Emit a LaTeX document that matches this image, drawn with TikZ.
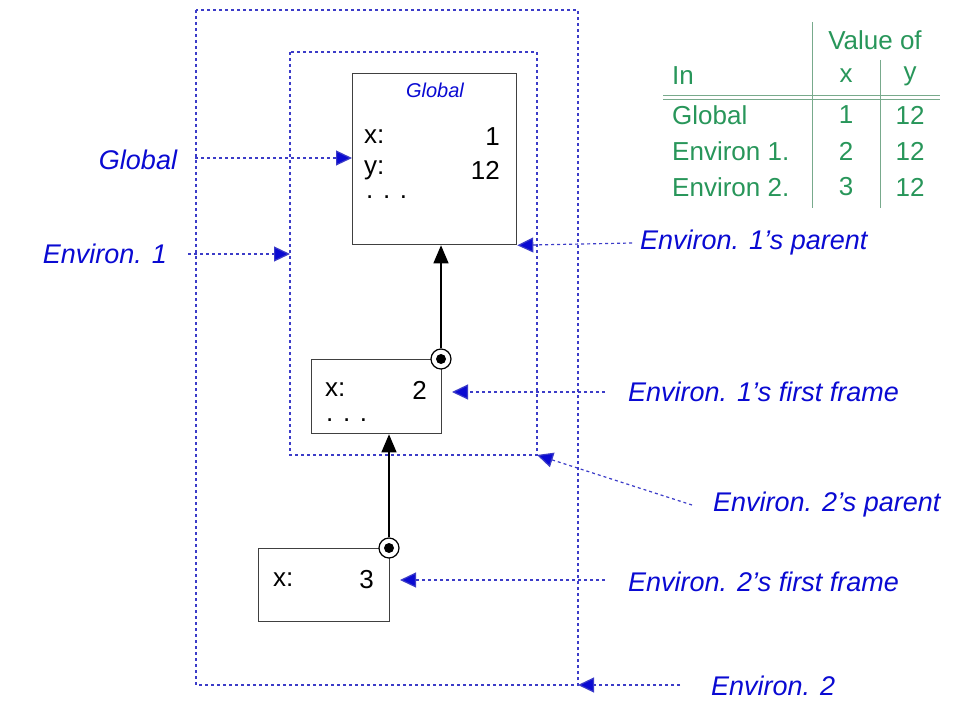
\documentclass[tikz,border=0pt]{standalone}
\usepackage{fontspec}
\setmainfont{Liberation Sans}
\usetikzlibrary{arrows.meta}
\definecolor{lblue}{RGB}{10,10,210}
\definecolor{dblue}{RGB}{60,60,200}
\definecolor{tgreen}{RGB}{40,150,90}
\definecolor{tline}{RGB}{120,170,140}
\begin{document}
\begin{tikzpicture}[x=1pt,y=-1pt,
  env/.style={draw=dblue,dash pattern=on 3pt off 3pt,line width=1.2pt},
  box/.style={draw=black!75,line width=1.3pt},
  ptr/.style={draw=dblue,dash pattern=on 3pt off 3pt,line width=1.2pt,-{Triangle[length=16pt,width=15pt,fill=lblue]}},
  lab/.style={text=lblue,font=\fontsize{27}{30}\selectfont\itshape,inner sep=0pt},
  val/.style={font=\fontsize{26}{30}\selectfont,inner sep=0pt},
  tab/.style={text=tgreen,font=\fontsize{26}{30}\selectfont,inner sep=0pt},
  up/.style={draw=black,line width=1.3pt,-{Triangle[length=18pt,width=15pt]}},
  dot/.style={circle,draw=black,fill=white,minimum size=20pt,inner sep=0pt,line width=1.2pt}]
\useasboundingbox (0,0) rectangle (960,708);
% environments
\draw[env] (196,10) rectangle (578,685);
\draw[env] (290,52) rectangle (537,455);
\coordinate (e2corner) at (578,685);
\coordinate (e1corner) at (537,455);
\coordinate (e1left) at (290,254);
% global frame
\node[box,minimum width=164pt,minimum height=171pt,anchor=north west,inner sep=0pt] (g) at (352,73) {};
\node[lab,font=\fontsize{20}{24}\selectfont\itshape] at (435,90) {Global};
\node[val,anchor=west] at (364,137) {x:};
\node[val,anchor=east] at (500,137) {1};
\node[val,anchor=west] at (364,170) {y:};
\node[val,anchor=east] at (500,170) {12};
\node[val,anchor=west] at (366,197) {. . .};
% frame 1
\node[box,minimum width=130pt,minimum height=74pt,anchor=north west,inner sep=0pt] (f1) at (311,359) {};
\node[val,anchor=west] at (325,390) {x:};
\node[val,anchor=east] at (427,390) {2};
\node[val,anchor=west] at (326,420) {. . .};
\node[dot] (d1) at (441,359) {};
\fill (d1) circle (5pt);
% frame 2
\node[box,minimum width=131pt,minimum height=73pt,anchor=north west,inner sep=0pt] (f2) at (258,548) {};
\node[val,anchor=west] at (273,580) {x:};
\node[val,anchor=east] at (374,580) {3};
\node[dot] (d2) at (389,548) {};
\fill (d2) circle (5pt);
% parent arrows
\draw[up] (d1.north) -- (g.south -| d1);
\draw[up] (d2.north) -- (f1.south -| d2);
% labels
\node[lab] (lg) at (138,160) {Global};
\draw[ptr] (195,158) -- (g.west |- 0,158);
\node[lab] (le1) at (105,254) {Environ. 1};
\draw[ptr] (188,254) -- (e1left);
\node[lab,anchor=west] (lp1) at (640,243) {Environ. 1’s parent};
\draw[ptr] (632,243) -- (g.south east);
\node[lab,anchor=west] (lf1) at (628,392) {Environ. 1’s first frame};
\draw[ptr] (605,392) -- (452,392);
\node[lab,anchor=west] (lp2) at (713,505) {Environ. 2’s parent};
\draw[ptr] (692,505) -- (e1corner);
\node[lab,anchor=west] (lf2) at (628,582) {Environ. 2’s first frame};
\draw[ptr] (605,580) -- (400,580);
\node[lab,anchor=west] (le2) at (711,686) {Environ. 2};
\draw[ptr] (680,685) -- (e2corner);
% table
\draw[tline,line width=1pt] (812,22) -- (812,208);
\draw[tline,line width=1pt] (880,60) -- (880,208);
\draw[tline,line width=1pt] (663,96) -- (940,96);
\draw[tline,line width=1pt] (663,100) -- (940,100);
\node[tab] at (875,40) {Value of};
\node[tab,anchor=west] at (672,76) {In};
\node[tab] at (846,76) {x};
\node[tab] at (910,76) {y};
\node[tab,anchor=west] at (672,115) {Global};
\node[tab] at (846,115) {1};
\node[tab] at (910,115) {12};
\node[tab,anchor=west] at (672,151) {Environ 1.};
\node[tab] at (846,151) {2};
\node[tab] at (910,151) {12};
\node[tab,anchor=west] at (672,187) {Environ 2.};
\node[tab] at (846,187) {3};
\node[tab] at (910,187) {12};
\end{tikzpicture}
\end{document}
